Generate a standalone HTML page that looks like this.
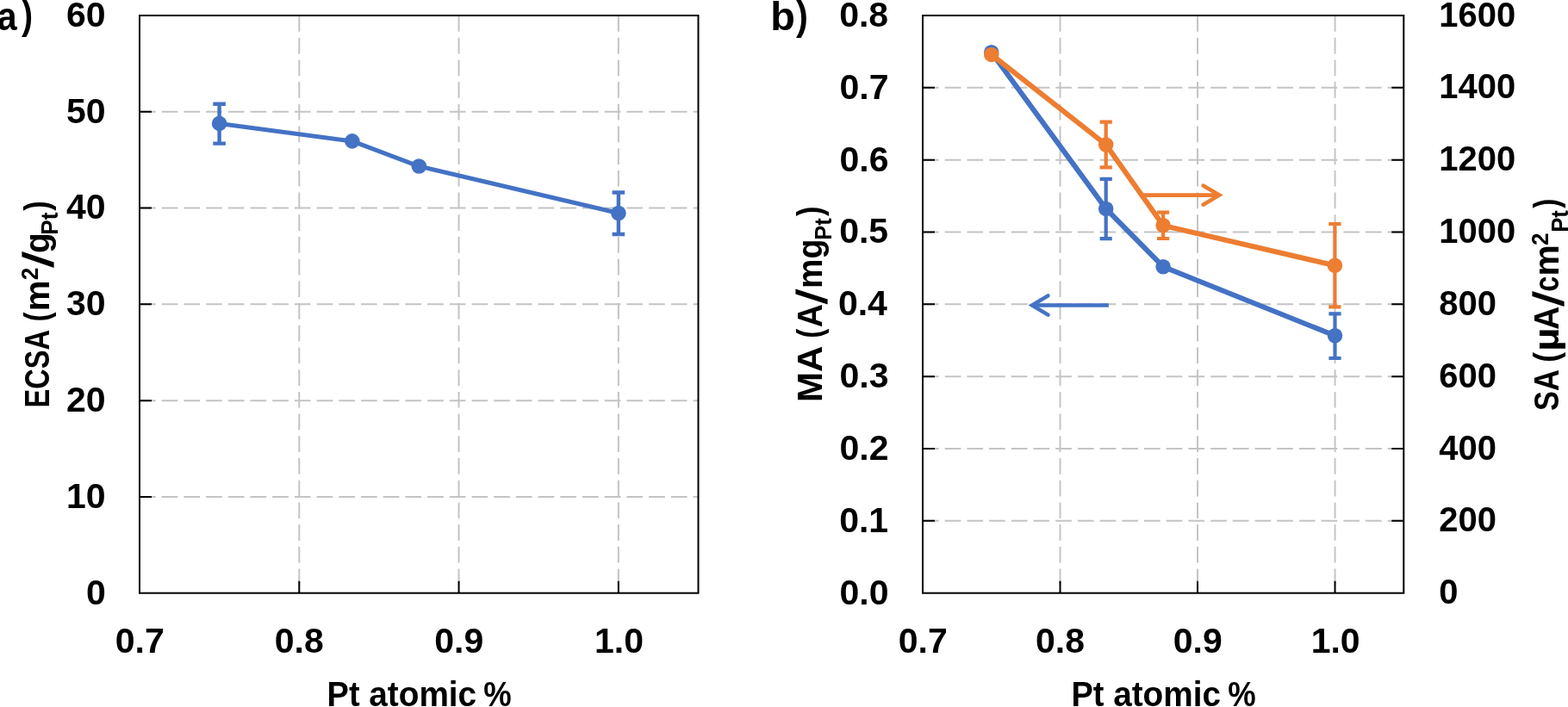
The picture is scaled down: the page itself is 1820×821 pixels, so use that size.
<!DOCTYPE html><html><head><meta charset="utf-8"><title>ECSA, MA and SA vs Pt atomic %</title><style>html,body{margin:0;padding:0;background:#fff;overflow:hidden}svg{display:block}text{font-family:'Liberation Sans', Arial, sans-serif;font-weight:bold;fill:#000}</style></head><body>
<svg width="1820" height="821" viewBox="0 0 1820 821">
<rect width="1820" height="821" fill="#fff"/>
<g id="panel-a">
<line x1="162" y1="576.92" x2="810.5" y2="576.92" stroke="#c4c4c4" stroke-width="2" stroke-dasharray="18.7 7"/>
<line x1="162" y1="465.13" x2="810.5" y2="465.13" stroke="#c4c4c4" stroke-width="2" stroke-dasharray="18.7 7"/>
<line x1="162" y1="353.35" x2="810.5" y2="353.35" stroke="#c4c4c4" stroke-width="2" stroke-dasharray="18.7 7"/>
<line x1="162" y1="241.57" x2="810.5" y2="241.57" stroke="#c4c4c4" stroke-width="2" stroke-dasharray="18.7 7"/>
<line x1="162" y1="129.78" x2="810.5" y2="129.78" stroke="#c4c4c4" stroke-width="2" stroke-dasharray="18.7 7"/>
<line x1="347.29" y1="18" x2="347.29" y2="688.7" stroke="#c4c4c4" stroke-width="2" stroke-dasharray="18.7 7"/>
<line x1="532.57" y1="18" x2="532.57" y2="688.7" stroke="#c4c4c4" stroke-width="2" stroke-dasharray="18.7 7"/>
<line x1="717.86" y1="18" x2="717.86" y2="688.7" stroke="#c4c4c4" stroke-width="2" stroke-dasharray="18.7 7"/>
<path d="M162 576.92h14M162 465.13h14M162 353.35h14M162 241.57h14M162 129.78h14M347.29 688.7v-14M532.57 688.7v-14M717.86 688.7v-14" stroke="#000" stroke-width="2" fill="none"/>
<rect x="162" y="18" width="648.50" height="670.70" fill="none" stroke="#000" stroke-width="2"/>
<path d="M254.60 143.40 L408.80 163.90 L486.30 193.05 L717.90 247.50" stroke="#4472c4" stroke-width="5.0" fill="none" stroke-linejoin="round"/>
<path d="M254.60 120.70V166.60M247.30 120.70h14.6M247.30 166.60h14.6M717.90 223.50V272.00M710.60 223.50h14.6M710.60 272.00h14.6" stroke="#4472c4" stroke-width="4.4" fill="none"/>
<circle cx="254.60" cy="143.40" r="8.8" fill="#4472c4"/>
<circle cx="408.80" cy="163.90" r="8.8" fill="#4472c4"/>
<circle cx="486.30" cy="193.05" r="8.8" fill="#4472c4"/>
<circle cx="717.90" cy="247.50" r="8.8" fill="#4472c4"/>
</g>
<g id="panel-b">
<line x1="1071" y1="604.86" x2="1629.3" y2="604.86" stroke="#c4c4c4" stroke-width="2" stroke-dasharray="18.7 7"/>
<line x1="1071" y1="521.03" x2="1629.3" y2="521.03" stroke="#c4c4c4" stroke-width="2" stroke-dasharray="18.7 7"/>
<line x1="1071" y1="437.19" x2="1629.3" y2="437.19" stroke="#c4c4c4" stroke-width="2" stroke-dasharray="18.7 7"/>
<line x1="1071" y1="353.35" x2="1629.3" y2="353.35" stroke="#c4c4c4" stroke-width="2" stroke-dasharray="18.7 7"/>
<line x1="1071" y1="269.51" x2="1629.3" y2="269.51" stroke="#c4c4c4" stroke-width="2" stroke-dasharray="18.7 7"/>
<line x1="1071" y1="185.68" x2="1629.3" y2="185.68" stroke="#c4c4c4" stroke-width="2" stroke-dasharray="18.7 7"/>
<line x1="1071" y1="101.84" x2="1629.3" y2="101.84" stroke="#c4c4c4" stroke-width="2" stroke-dasharray="18.7 7"/>
<line x1="1230.51" y1="18" x2="1230.51" y2="688.7" stroke="#c4c4c4" stroke-width="2" stroke-dasharray="18.7 7"/>
<line x1="1390.03" y1="18" x2="1390.03" y2="688.7" stroke="#c4c4c4" stroke-width="2" stroke-dasharray="18.7 7"/>
<line x1="1549.54" y1="18" x2="1549.54" y2="688.7" stroke="#c4c4c4" stroke-width="2" stroke-dasharray="18.7 7"/>
<path d="M1071 604.86h14M1629.3 604.86h-14M1071 521.03h14M1629.3 521.03h-14M1071 437.19h14M1629.3 437.19h-14M1071 353.35h14M1629.3 353.35h-14M1071 269.51h14M1629.3 269.51h-14M1071 185.68h14M1629.3 185.68h-14M1071 101.84h14M1629.3 101.84h-14M1230.51 688.7v-14M1390.03 688.7v-14M1549.54 688.7v-14" stroke="#000" stroke-width="2" fill="none"/>
<rect x="1071" y="18" width="558.30" height="670.70" fill="none" stroke="#000" stroke-width="2"/>
<path d="M1150.75 60.70 L1283.70 242.40 L1350.10 309.70 L1549.50 389.80" stroke="#4472c4" stroke-width="6.0" fill="none" stroke-linejoin="round"/>
<path d="M1283.70 207.80V277.10M1276.60 207.80h14.2M1276.60 277.10h14.2M1549.50 364.40V416.00M1542.40 364.40h14.2M1542.40 416.00h14.2" stroke="#4472c4" stroke-width="4.2" fill="none"/>
<circle cx="1150.75" cy="60.70" r="8.75" fill="#4472c4"/>
<circle cx="1283.70" cy="242.40" r="8.75" fill="#4472c4"/>
<circle cx="1350.10" cy="309.70" r="8.75" fill="#4472c4"/>
<circle cx="1549.50" cy="389.80" r="8.75" fill="#4472c4"/>
<path d="M1150.75 63.40 L1283.70 168.00 L1350.10 261.80 L1549.40 308.30" stroke="#ed7d31" stroke-width="6.0" fill="none" stroke-linejoin="round"/>
<path d="M1283.70 141.70V194.30M1276.60 141.70h14.2M1276.60 194.30h14.2M1350.10 246.60V277.00M1343.00 246.60h14.2M1343.00 277.00h14.2M1549.40 260.00V356.40M1542.30 260.00h14.2M1542.30 356.40h14.2" stroke="#ed7d31" stroke-width="4.2" fill="none"/>
<circle cx="1150.75" cy="63.40" r="8.75" fill="#ed7d31"/>
<circle cx="1283.70" cy="168.00" r="8.75" fill="#ed7d31"/>
<circle cx="1350.10" cy="261.80" r="8.75" fill="#ed7d31"/>
<circle cx="1549.40" cy="308.30" r="8.75" fill="#ed7d31"/>
<path d="M1327 226.6H1412" stroke="#ed7d31" stroke-width="4.6" fill="none"/>
<path d="M1396.5 215.5L1415.3 226.6L1396.5 237.7" stroke="#ed7d31" stroke-width="4.5" fill="none" stroke-linecap="round" stroke-linejoin="miter"/>
<path d="M1286.9 354.5H1201" stroke="#4472c4" stroke-width="4.6" fill="none"/>
<path d="M1216.5 343.4L1197.9 354.5L1216.5 365.6" stroke="#4472c4" stroke-width="4.5" fill="none" stroke-linecap="round" stroke-linejoin="miter"/>
</g>
<g id="labels">
<text x="99.89" y="701.60" font-size="41" textLength="22.81" lengthAdjust="spacingAndGlyphs">0</text>
<text x="76.93" y="589.82" font-size="41" textLength="45.61" lengthAdjust="spacingAndGlyphs">10</text>
<text x="76.93" y="478.03" font-size="41" textLength="45.61" lengthAdjust="spacingAndGlyphs">20</text>
<text x="76.93" y="366.25" font-size="41" textLength="45.61" lengthAdjust="spacingAndGlyphs">30</text>
<text x="76.93" y="254.47" font-size="41" textLength="45.61" lengthAdjust="spacingAndGlyphs">40</text>
<text x="76.93" y="142.68" font-size="41" textLength="45.61" lengthAdjust="spacingAndGlyphs">50</text>
<text x="76.93" y="30.90" font-size="41" textLength="45.61" lengthAdjust="spacingAndGlyphs">60</text>
<text x="974.55" y="701.60" font-size="41" textLength="57.00" lengthAdjust="spacingAndGlyphs">0.0</text>
<text x="974.14" y="617.76" font-size="41" textLength="57.00" lengthAdjust="spacingAndGlyphs">0.1</text>
<text x="974.55" y="533.93" font-size="41" textLength="57.00" lengthAdjust="spacingAndGlyphs">0.2</text>
<text x="974.55" y="450.09" font-size="41" textLength="57.00" lengthAdjust="spacingAndGlyphs">0.3</text>
<text x="972.91" y="366.25" font-size="41" textLength="57.00" lengthAdjust="spacingAndGlyphs">0.4</text>
<text x="974.14" y="282.41" font-size="41" textLength="57.00" lengthAdjust="spacingAndGlyphs">0.5</text>
<text x="974.55" y="198.58" font-size="41" textLength="57.00" lengthAdjust="spacingAndGlyphs">0.6</text>
<text x="974.55" y="114.74" font-size="41" textLength="57.00" lengthAdjust="spacingAndGlyphs">0.7</text>
<text x="974.14" y="30.90" font-size="41" textLength="57.00" lengthAdjust="spacingAndGlyphs">0.8</text>
<text x="1670.20" y="701.30" font-size="41" textLength="22.24" lengthAdjust="spacingAndGlyphs">0</text>
<text x="1670.20" y="617.46" font-size="41" textLength="66.70" lengthAdjust="spacingAndGlyphs">200</text>
<text x="1670.20" y="533.63" font-size="41" textLength="66.70" lengthAdjust="spacingAndGlyphs">400</text>
<text x="1670.20" y="449.79" font-size="41" textLength="66.70" lengthAdjust="spacingAndGlyphs">600</text>
<text x="1670.20" y="365.95" font-size="41" textLength="66.70" lengthAdjust="spacingAndGlyphs">800</text>
<text x="1670.20" y="282.11" font-size="41" textLength="88.93" lengthAdjust="spacingAndGlyphs">1000</text>
<text x="1670.20" y="198.28" font-size="41" textLength="88.93" lengthAdjust="spacingAndGlyphs">1200</text>
<text x="1670.20" y="114.44" font-size="41" textLength="88.93" lengthAdjust="spacingAndGlyphs">1400</text>
<text x="1670.20" y="30.60" font-size="41" textLength="88.93" lengthAdjust="spacingAndGlyphs">1600</text>
<text x="133.70" y="758.10" font-size="41" textLength="57.00" lengthAdjust="spacingAndGlyphs">0.7</text>
<text x="318.79" y="758.10" font-size="41" textLength="57.00" lengthAdjust="spacingAndGlyphs">0.8</text>
<text x="504.28" y="758.10" font-size="41" textLength="57.00" lengthAdjust="spacingAndGlyphs">0.9</text>
<text x="689.95" y="758.10" font-size="41" textLength="57.00" lengthAdjust="spacingAndGlyphs">1.0</text>
<text x="1042.70" y="758.10" font-size="41" textLength="57.00" lengthAdjust="spacingAndGlyphs">0.7</text>
<text x="1202.01" y="758.10" font-size="41" textLength="57.00" lengthAdjust="spacingAndGlyphs">0.8</text>
<text x="1361.73" y="758.10" font-size="41" textLength="57.00" lengthAdjust="spacingAndGlyphs">0.9</text>
<text x="1521.64" y="758.10" font-size="41" textLength="57.00" lengthAdjust="spacingAndGlyphs">1.0</text>
<text x="379.59" y="820.20" font-size="40.5" textLength="37.99" lengthAdjust="spacingAndGlyphs">Pt</text>
<text x="428.24" y="820.20" font-size="40.5" textLength="124.95" lengthAdjust="spacingAndGlyphs">atomic</text>
<text x="561.30" y="820.20" font-size="40.5" textLength="32.46" lengthAdjust="spacingAndGlyphs">%</text>
<text x="1243.49" y="820.20" font-size="40.5" textLength="37.99" lengthAdjust="spacingAndGlyphs">Pt</text>
<text x="1292.14" y="820.20" font-size="40.5" textLength="124.95" lengthAdjust="spacingAndGlyphs">atomic</text>
<text x="1425.20" y="820.20" font-size="40.5" textLength="32.46" lengthAdjust="spacingAndGlyphs">%</text>
<text x="-3.23" y="35.00" font-size="45.7" textLength="22.88" lengthAdjust="spacingAndGlyphs">a</text>
<text x="25.00" y="33.40" font-size="45.7" textLength="13.09" lengthAdjust="spacingAndGlyphs">)</text>
<text x="894.22" y="35.00" font-size="45.7" textLength="28.59" lengthAdjust="spacingAndGlyphs">b</text>
<text x="923.90" y="33.50" font-size="45.7" textLength="13.92" lengthAdjust="spacingAndGlyphs">)</text>
<g transform="translate(56.8,471.2) rotate(-90)">
<text x="-2.28" y="0.00" font-size="40.5" textLength="90.40" lengthAdjust="spacingAndGlyphs">ECSA</text>
<text x="97.66" y="0.00" font-size="40.5" textLength="10.95" lengthAdjust="spacingAndGlyphs">(</text>
<text x="109.89" y="0.00" font-size="40.5" textLength="35.69" lengthAdjust="spacingAndGlyphs">m</text>
<text x="146.02" y="-13.20" font-size="27" textLength="14.53" lengthAdjust="spacingAndGlyphs">2</text>
<text x="161.20" y="5.60" font-size="50" style="font-weight:normal" stroke="#000" stroke-width="1.2" textLength="17.08" lengthAdjust="spacingAndGlyphs">/</text>
<text x="177.16" y="0.00" font-size="40.5" textLength="23.58" lengthAdjust="spacingAndGlyphs">g</text>
<text x="198.37" y="10.60" font-size="27" textLength="26.20" lengthAdjust="spacingAndGlyphs">Pt</text>
<text x="226.50" y="0.00" font-size="40.5" textLength="11.54" lengthAdjust="spacingAndGlyphs">)</text>
</g>
<g transform="translate(954,464.0) rotate(-90)">
<text x="-2.94" y="0.00" font-size="40.5" textLength="65.32" lengthAdjust="spacingAndGlyphs">MA</text>
<text x="71.36" y="0.00" font-size="40.5" textLength="10.95" lengthAdjust="spacingAndGlyphs">(</text>
<text x="83.77" y="0.00" font-size="40.5" textLength="27.14" lengthAdjust="spacingAndGlyphs">A</text>
<text x="111.60" y="5.60" font-size="50" style="font-weight:normal" stroke="#000" stroke-width="1.2" textLength="16.08" lengthAdjust="spacingAndGlyphs">/</text>
<text x="129.08" y="0.00" font-size="40.5" textLength="34.52" lengthAdjust="spacingAndGlyphs">m</text>
<text x="163.50" y="0.00" font-size="40.5" textLength="22.85" lengthAdjust="spacingAndGlyphs">g</text>
<text x="185.32" y="10.60" font-size="27" textLength="25.43" lengthAdjust="spacingAndGlyphs">Pt</text>
<text x="213.00" y="0.00" font-size="40.5" textLength="11.42" lengthAdjust="spacingAndGlyphs">)</text>
</g>
<g transform="translate(1809.3,476.0) rotate(-90)">
<text x="-1.03" y="0.00" font-size="40.5" textLength="47.73" lengthAdjust="spacingAndGlyphs">SA</text>
<text x="55.31" y="0.00" font-size="40.5" textLength="11.90" lengthAdjust="spacingAndGlyphs">(</text>
<text x="67.96" y="0.00" font-size="40.5" textLength="27.53" lengthAdjust="spacingAndGlyphs">µ</text>
<text x="92.97" y="0.00" font-size="40.5" textLength="27.25" lengthAdjust="spacingAndGlyphs">A</text>
<text x="120.90" y="5.60" font-size="50" style="font-weight:normal" stroke="#000" stroke-width="1.2" textLength="16.08" lengthAdjust="spacingAndGlyphs">/</text>
<text x="137.27" y="0.00" font-size="40.5" textLength="18.02" lengthAdjust="spacingAndGlyphs">c</text>
<text x="155.55" y="0.00" font-size="40.5" textLength="36.15" lengthAdjust="spacingAndGlyphs">m</text>
<text x="191.12" y="-12.80" font-size="27" textLength="14.53" lengthAdjust="spacingAndGlyphs">2</text>
<text x="206.21" y="10.60" font-size="27" textLength="25.54" lengthAdjust="spacingAndGlyphs">Pt</text>
<text x="234.20" y="0.00" font-size="40.5" textLength="11.18" lengthAdjust="spacingAndGlyphs">)</text>
</g>
</g>
</svg></body></html>
